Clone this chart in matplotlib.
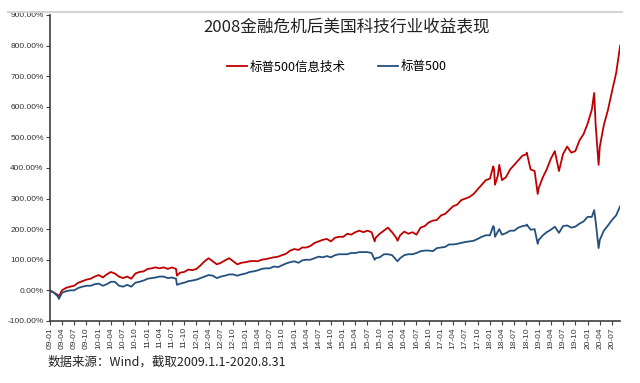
import matplotlib
matplotlib.use('Agg')
import matplotlib.pyplot as plt
import matplotlib.dates as mdates
from matplotlib.lines import Line2D
from matplotlib.ticker import FuncFormatter, MultipleLocator
import pandas as pd

plt.rcParams['font.family'] = ['Noto Sans CJK SC', 'DejaVu Sans']

# cumulative return (%) read at the start of each month, 2009-01 .. 2020-08
months = pd.date_range('2009-01-01', '2020-08-01', freq='MS')

it_monthly = [
    0, -8, -15, 0, 8, 12, 15, 25, 30, 35, 38, 45,
    50, 42, 52, 60, 55, 45, 40, 45, 38, 55, 60, 62,
    70, 72, 75, 72, 75, 70, 75, 70, 58, 60, 68, 66,
    70, 82, 95, 105, 95, 85, 90, 98, 105, 95, 85, 90,
    92, 95, 96, 95, 100, 102, 105, 108, 110, 115, 120, 130,
    135, 132, 140, 140, 145, 155, 160, 165, 168, 160, 172, 175,
    175, 185, 182, 190, 195, 190, 195, 190, 172, 185, 195, 205,
    190, 172, 180, 192, 185, 190, 182, 205, 210, 222, 228, 230,
    245, 250, 262, 275, 280, 295, 300, 305, 315, 330, 345, 360,
    365, 395, 375, 360, 370, 395, 410, 425, 440, 445, 395, 390,
    335, 370, 395, 430, 455, 390, 445, 470, 450, 455, 490, 510,
    545, 590, 540, 470, 540, 590, 650, 710,
]

spx_monthly = [
    0, -8, -20, -8, -3, 0, 0, 8, 12, 15, 15, 20,
    22, 15, 20, 28, 28, 15, 12, 18, 12, 25, 28, 32,
    38, 40, 42, 45, 45, 40, 42, 38, 22, 25, 30, 32,
    35, 40, 45, 50, 48, 40, 45, 48, 52, 52, 48, 52,
    55, 60, 62, 65, 70, 72, 72, 78, 76, 82, 88, 92,
    95, 90, 98, 100, 100, 105, 110, 108, 112, 108, 115, 118,
    118, 118, 122, 122, 125, 125, 125, 122, 105, 108, 118, 118,
    115, 100, 105, 115, 118, 118, 122, 128, 130, 130, 128, 138,
    140, 142, 150, 150, 152, 155, 158, 160, 162, 168, 175, 180,
    180, 205, 192, 182, 187, 195, 195, 205, 210, 212, 198, 200,
    165, 180, 190, 198, 208, 188, 210, 212, 205, 208, 218, 225,
    240, 240, 225, 165, 195, 212, 230, 245,
]

# sharp peaks / troughs between month starts
event_dates = ['2009-03-09', '2011-08-08', '2015-08-24', '2016-02-11',
               '2018-01-26', '2018-02-08', '2018-03-12', '2018-10-03',
               '2018-12-24', '2020-02-19', '2020-03-23', '2020-08-31']
it_events = [-20, 48, 160, 162, 405, 345, 410, 450, 315, 645, 410, 800]
spx_events = [-28, 18, 100, 95, 210, 175, 200, 215, 152, 262, 138, 275]

df = pd.DataFrame({'it': it_monthly, 'spx': spx_monthly}, index=months)
ev = pd.DataFrame({'it': it_events, 'spx': spx_events},
                  index=pd.to_datetime(event_dates))
df = pd.concat([df, ev]).sort_index()

fig = plt.figure(figsize=(6.4, 3.83), dpi=100)
ax = fig.add_axes([0.078, 0.162, 0.891, 0.799])

ax.plot(df.index, df['it'], color='#C00000', lw=1.3, label='标普500信息技术')
ax.plot(df.index, df['spx'], color='#24507E', lw=1.3, label='标普500')

ax.set_ylim(-100, 900)
ax.yaxis.set_major_locator(MultipleLocator(100))
ax.yaxis.set_major_formatter(FuncFormatter(lambda v, p: f'{v:.2f}%'))
ax.set_xlim(pd.Timestamp('2009-01-01'), pd.Timestamp('2020-08-31'))
ax.xaxis.set_major_locator(mdates.MonthLocator(bymonth=[1, 4, 7, 10]))
ax.xaxis.set_major_formatter(mdates.DateFormatter('%y-%m'))

for s in ['top', 'right']:
    ax.spines[s].set_visible(False)
for s in ['left', 'bottom']:
    ax.spines[s].set_color('#404040')
    ax.spines[s].set_linewidth(1.2)
ax.tick_params(axis='both', colors='#404040', length=3, width=0.8,
               labelsize=6, pad=1.5)
ax.tick_params(axis='x', labelrotation=90)
for lab in ax.get_xticklabels() + ax.get_yticklabels():
    lab.set_family(['Liberation Sans', 'DejaVu Sans'])
    lab.set_color('#333333')

ax.text(0.52, 0.957, '2008金融危机后美国科技行业收益表现', transform=ax.transAxes,
        ha='center', va='center', fontsize=12, color='#222222')
ax.legend(loc='center', bbox_to_anchor=(0.503, 0.83), ncol=2, frameon=False,
          fontsize=9, handlelength=1.6, handletextpad=0.2, columnspacing=2.6)

fig.text(0.075, 0.055, '数据来源：Wind，截取2009.1.1-2020.8.31', fontsize=9,
         ha='left', va='center', color='#222222')
fig.add_artist(Line2D([0.012, 0.972], [0.969, 0.969], color='#d4d4d4', lw=1.5,
                      transform=fig.transFigure))

fig.savefig('out.png', dpi=100)
